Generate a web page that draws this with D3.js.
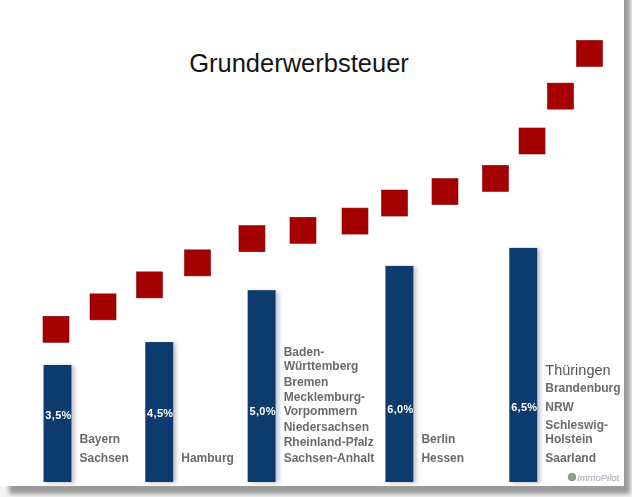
<!DOCTYPE html>
<html>
<head>
<meta charset="utf-8">
<script src="https://cdn.jsdelivr.net/npm/d3@7"></script>
<style>
  html, body { margin: 0; padding: 0; background: #ffffff; }
  svg { display: block; }
</style>
</head>
<body>
<svg id="chart" width="632" height="497"></svg>
<script>
// ---------------- data ----------------
const title = "Grunderwerbsteuer";
const rateLabels = ["3,5%", "4,5%", "5,0%", "6,0%", "6,5%"];
// bar height on the hidden 0–100 vertical scale
const barLevels = [26.6, 31.8, 43.6, 49.1, 53.2];
// bar position on the hidden 0–100 horizontal scale
const barPositions = [9.1, 25.2, 41.4, 63.2, 82.8];
const stateGroups = [
  ["Bayern", "Sachsen"],
  ["Hamburg"],
  ["Baden-Württemberg", "Bremen", "Mecklemburg-Vorpommern", "Niedersachsen", "Rheinland-Pfalz", "Sachsen-Anhalt"],
  ["Berlin", "Hessen"],
  ["Thüringen", "Brandenburg", "NRW", "Schleswig-Holstein", "Saarland"]
];
// decorative rising squares: horizontal / vertical position on the hidden scales
const stepPositions = [8.86, 16.30, 23.66, 31.25, 39.87, 47.94, 56.17, 62.42, 70.41, 78.40, 84.18, 88.69, 93.28];
const stepLevels    = [34.7, 39.8, 44.8, 49.8, 55.3, 57.2, 59.3, 63.4, 66.0, 69.0, 77.5, 87.7, 97.4];
const watermark = "ImmoPilot";

// ---------------- layout ----------------
const W = 632, H = 497;
const svg = d3.select("#chart");
const defs = svg.append("defs");

const x = d3.scaleLinear().domain([0, 100]).range([0, W]);
const y = d3.scaleLinear().domain([0, 100]).range([482, 42]);

const barW = 28, sq = 26;

// filters
const panelShadow = defs.append("filter").attr("id", "panelShadow")
  .attr("x", "-10%").attr("y", "-10%").attr("width", "120%").attr("height", "120%");
panelShadow.append("feGaussianBlur").attr("stdDeviation", 2.2);

const barShadow = defs.append("filter").attr("id", "barShadow")
  .attr("x", "-50%").attr("y", "-10%").attr("width", "200%").attr("height", "120%");
barShadow.append("feGaussianBlur").attr("in", "SourceAlpha").attr("stdDeviation", 2.2).attr("result", "b");
barShadow.append("feOffset").attr("in", "b").attr("dx", 2.5).attr("dy", 1).attr("result", "o");
barShadow.append("feFlood").attr("flood-color", "#8a93a3").attr("flood-opacity", 0.55).attr("result", "c");
barShadow.append("feComposite").attr("in", "c").attr("in2", "o").attr("operator", "in").attr("result", "s");
barShadow.append("feGaussianBlur").attr("in", "SourceGraphic").attr("stdDeviation", 0.6).attr("result", "g");
const m = barShadow.append("feMerge");
m.append("feMergeNode").attr("in", "s");
m.append("feMergeNode").attr("in", "g");

const soft = defs.append("filter").attr("id", "soft");
soft.append("feGaussianBlur").attr("stdDeviation", 0.35);

// background panel with gray drop shadow (right and bottom)
svg.append("rect").attr("x", 0).attr("y", 0).attr("width", W).attr("height", H).attr("fill", "#f4f4f4");
svg.append("rect").attr("x", 9).attr("y", -20).attr("width", 621).attr("height", 514)
  .attr("fill", "#9a9a9a").attr("filter", "url(#panelShadow)");
svg.append("rect").attr("x", 0).attr("y", 0).attr("width", 624).attr("height", 486).attr("fill", "#ffffff");

// title
svg.append("text")
  .attr("x", 299).attr("y", 72)
  .attr("text-anchor", "middle")
  .attr("font-family", "'Liberation Sans', Arial, sans-serif")
  .attr("font-size", 25.5)
  .attr("fill", "#151515")
  .text(title);

// squares
svg.append("g").selectAll("rect")
  .data(stepPositions.map((p, i) => ({ p, v: stepLevels[i] })))
  .join("rect")
  .attr("x", d => x(d.p) - sq / 2)
  .attr("y", d => y(d.v) - sq / 2)
  .attr("width", sq).attr("height", sq)
  .attr("fill", "#a40202")
  .attr("stroke", "#8e0000").attr("stroke-width", 0.6)
  .attr("filter", "url(#soft)");

// bars
const bars = barLevels.map((v, i) => ({ v, p: barPositions[i], label: rateLabels[i], states: stateGroups[i], i }));
svg.append("g").selectAll("rect")
  .data(bars)
  .join("rect")
  .attr("x", d => x(d.p) - barW / 2)
  .attr("y", d => y(d.v))
  .attr("width", barW)
  .attr("height", d => y(0) - y(d.v))
  .attr("fill", "#0c3a6e")
  .attr("filter", "url(#barShadow)");

// rate labels inside bars
svg.append("g").selectAll("text")
  .data(bars)
  .join("text")
  .attr("x", d => x(d.p) + 1)
  .attr("y", d => 415 - d.i * 2)
  .attr("dy", "0.35em")
  .attr("text-anchor", "middle")
  .attr("font-family", "'Liberation Sans', Arial, sans-serif")
  .attr("font-weight", "bold")
  .attr("font-size", 11)
  .attr("letter-spacing", 0.3)
  .attr("fill", "#ffffff")
  .attr("filter", "url(#soft)")
  .text(d => d.label);

// state labels beside bars
bars.forEach(d => {
  const lines = [];
  d.states.forEach((s, si) => {
    if (s.length > 15 && s.includes("-")) {
      const k = s.indexOf("-");
      lines.push({ t: s.slice(0, k + 1), state: si, wrap: false });
      lines.push({ t: s.slice(k + 1), state: si, wrap: true });
    } else {
      lines.push({ t: s, state: si, wrap: false });
    }
  });
  const step = lines.length > 6 ? 15.5 : 18.5;
  const wrapStep = 14;
  let cy = 457.5;
  const ys = new Array(lines.length);
  for (let j = lines.length - 1; j >= 0; j--) {
    ys[j] = cy;
    if (j > 0) cy -= lines[j].wrap ? wrapStep : step;
  }
  const gx = x(d.p) + barW / 2 + 8;
  svg.append("g").selectAll("text")
    .data(lines)
    .join("text")
    .attr("x", gx)
    .attr("y", (l, j) => ys[j])
    .attr("dy", "0.35em")
    .attr("font-family", "'Liberation Sans', Arial, sans-serif")
    .attr("font-weight", l => l.t === "Thüringen" ? "normal" : "bold")
    .attr("font-size", l => l.t === "Thüringen" ? 14.5 : 12)
    .attr("fill", l => l.t === "Thüringen" ? "#555555" : "#6b6b6b")
    .attr("filter", "url(#soft)")
    .text(l => l.t);
});

// watermark
svg.append("circle").attr("cx", 572).attr("cy", 477).attr("r", 3.8)
  .attr("fill", "#8aa48e").attr("stroke", "#6f8a74").attr("stroke-width", 0.8);
svg.append("text")
  .attr("x", 577).attr("y", 480.5)
  .attr("font-family", "'Liberation Sans', Arial, sans-serif")
  .attr("font-style", "italic")
  .attr("font-size", 9.5)
  .attr("fill", "#a8a8a8")
  .text(watermark);
</script>
</body>
</html>
